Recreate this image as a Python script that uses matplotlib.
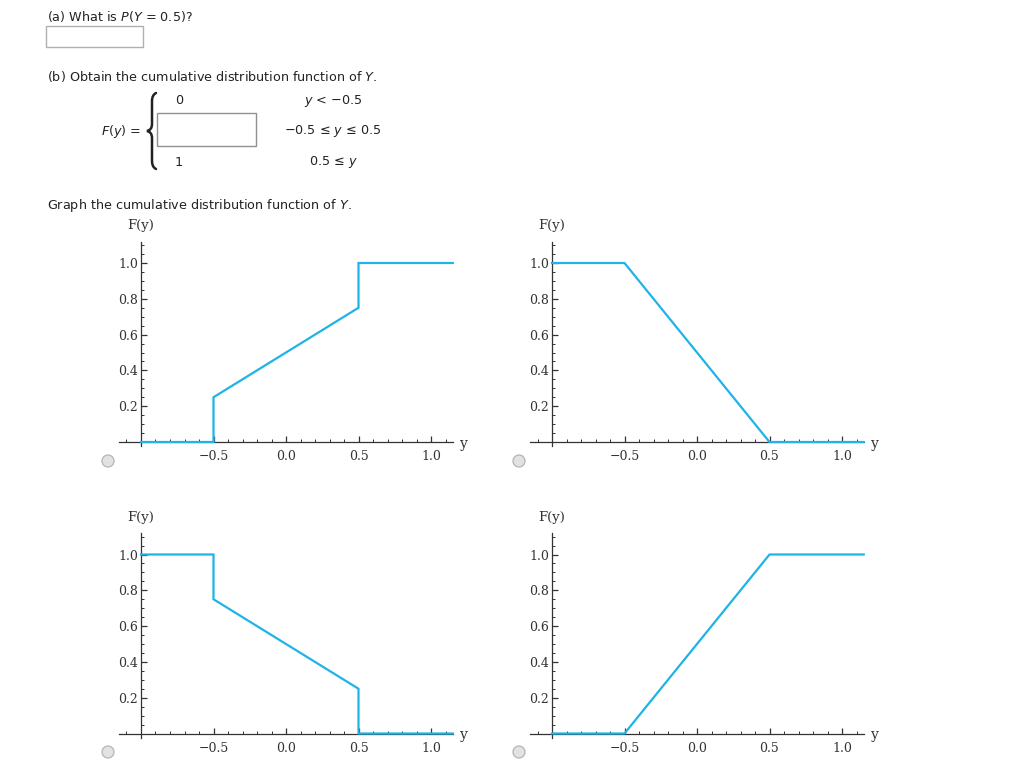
import matplotlib
matplotlib.use("Agg")
import matplotlib.pyplot as plt
from matplotlib.patches import Rectangle, Circle, PathPatch
from matplotlib.path import Path

plt.rcParams['mathtext.fontset'] = 'dejavusans'

# ---- data ----
x_a = [-1.0, -0.5, -0.5, 0.5, 0.5, 1.15]
F_a = [0.0, 0.0, 0.25, 0.75, 1.0, 1.0]
x_b = [-1.0, -0.5, 0.5, 1.15]
F_b = [1.0, 1.0, 0.0, 0.0]
x_c = [-1.0, -0.5, -0.5, 0.5, 0.5, 1.15]
F_c = [1.0, 1.0, 0.75, 0.25, 0.0, 0.0]
x_d = [-1.0, -0.5, 0.5, 1.15]
F_d = [0.0, 0.0, 1.0, 1.0]

x_major = [-0.5, 0.0, 0.5, 1.0]
x_minor = [-1.1, -0.9, -0.8, -0.7, -0.6, -0.4, -0.3, -0.2, -0.1,
           0.1, 0.2, 0.3, 0.4, 0.6, 0.7, 0.8, 0.9, 1.1]
y_major = [0.2, 0.4, 0.6, 0.8, 1.0]
y_minor = [0.05, 0.1, 0.15, 0.25, 0.3, 0.35, 0.45, 0.5, 0.55, 0.65, 0.7, 0.75,
           0.85, 0.9, 0.95, 1.05, 1.1]
x_labels = ["\u22120.5", "0.0", "0.5", "1.0"]
y_labels = ["0.2", "0.4", "0.6", "0.8", "1.0"]

W, H = 1024, 772
fig = plt.figure(figsize=(W / 100, H / 100), dpi=100)
fig.patch.set_facecolor('white')

LINE = '#1fb3e8'
TXT = '#222222'

# background axes in pixel coordinates
bg = fig.add_axes([0, 0, 1, 1])
bg.set_xlim(0, W)
bg.set_ylim(H, 0)
bg.axis('off')

fs = 9.2
bg.text(47, 17, "(a) What is $P$($Y$ = 0.5)?", fontsize=fs, color=TXT,
        va='center', ha='left', family='DejaVu Sans')
bg.add_patch(Rectangle((46, 26), 97, 21, fill=False, ec='#b0b0b0', lw=1))
bg.text(47, 76, "(b) Obtain the cumulative distribution function of $Y$.", fontsize=fs,
        color=TXT, va='center', ha='left', family='DejaVu Sans')

# piecewise definition
bg.text(141, 131, "$F$($y$) =", fontsize=fs, color=TXT, va='center', ha='right')
bx = 152
verts = [(bx + 4, 93), (bx, 95), (bx, 101), (bx, 124), (bx, 130), (bx - 5, 131),
         (bx, 132), (bx, 138), (bx, 161), (bx, 167), (bx + 4, 169)]
codes = [Path.MOVETO, Path.CURVE3, Path.CURVE3, Path.LINETO, Path.CURVE3, Path.CURVE3,
         Path.CURVE3, Path.CURVE3, Path.LINETO, Path.CURVE3, Path.CURVE3]
bg.add_patch(PathPatch(Path(verts, codes), fill=False, lw=1.8, ec=TXT, capstyle='round'))
bg.text(179, 101, "0", fontsize=fs, color=TXT, va='center', ha='center')
bg.add_patch(Rectangle((157, 113), 99, 33, fill=False, ec='#909090', lw=1))
bg.text(179, 162, "1", fontsize=fs, color=TXT, va='center', ha='center')
bg.text(333, 101, "$y$ < \u22120.5", fontsize=fs, color=TXT, va='center', ha='center')
bg.text(333, 131, "\u22120.5 \u2264 $y$ \u2264 0.5", fontsize=fs, color=TXT, va='center', ha='center')
bg.text(333, 162, "0.5 \u2264 $y$", fontsize=fs, color=TXT, va='center', ha='center')

bg.text(47, 206, "Graph the cumulative distribution function of $Y$.", fontsize=fs,
        color=TXT, va='center', ha='left', family='DejaVu Sans')

# radio buttons
for cx, cy in [(108, 461), (519, 461), (108, 752), (519, 752)]:
    bg.add_patch(Circle((cx, cy), 6, fc='#e2e2e2', ec='#b5b5b5', lw=0.9))

# panels
XL, XR = -1.15, 1.15
YB, YT = -0.03, 1.12
SX, SY = 145.0, 179.0


def panel(x0, y0, xs, Fs):
    left_px = x0 + SX * (XL + 1.0)
    right_px = x0 + SX * (XR + 1.0)
    top_px = y0 - SY * YT
    bot_px = y0 - SY * YB
    ax = fig.add_axes([left_px / W, 1 - bot_px / H,
                       (right_px - left_px) / W, (bot_px - top_px) / H])
    ax.set_xlim(XL, XR)
    ax.set_ylim(YB, YT)
    ax.patch.set_alpha(0)
    for s in ['top', 'right']:
        ax.spines[s].set_visible(False)
    ax.spines['left'].set_position(('data', -1.0))
    ax.spines['bottom'].set_position(('data', 0.0))
    ax.spines['left'].set_bounds(-0.025, YT)
    for s in ['left', 'bottom']:
        ax.spines[s].set_color('#333333')
        ax.spines[s].set_linewidth(0.9)
    ax.set_xticks(x_major)
    ax.set_xticks(x_minor, minor=True)
    ax.set_yticks(y_major)
    ax.set_yticks(y_minor, minor=True)
    ax.set_xticklabels(x_labels, family='DejaVu Serif', fontsize=9, color='#333333')
    ax.set_yticklabels(y_labels, family='DejaVu Serif', fontsize=9, color='#333333')
    ax.tick_params(axis='both', which='major', direction='in', length=4, width=0.9,
                   color='#333333')
    ax.tick_params(axis='both', which='minor', direction='in', length=2.2, width=0.7,
                   color='#333333')
    ax.tick_params(axis='x', which='major', pad=6)
    ax.tick_params(axis='y', which='major', pad=2)
    ax.plot(xs, Fs, color=LINE, lw=1.6, clip_on=False, zorder=5,
            solid_joinstyle='miter')
    bg.text(x0, y0 - 216, "F(y)", family='DejaVu Serif', fontsize=9.5, color='#333333',
            ha='center', va='center')
    bg.text(x0 + 323, y0 + 2, "y", family='DejaVu Serif', fontsize=10, color='#333333',
            ha='center', va='center')
    return ax


panel(141, 442, x_a, F_a)
panel(552, 442, x_b, F_b)
panel(141, 733.5, x_c, F_c)
panel(552, 733.5, x_d, F_d)

fig.savefig("out.png", dpi=100, facecolor='white')
